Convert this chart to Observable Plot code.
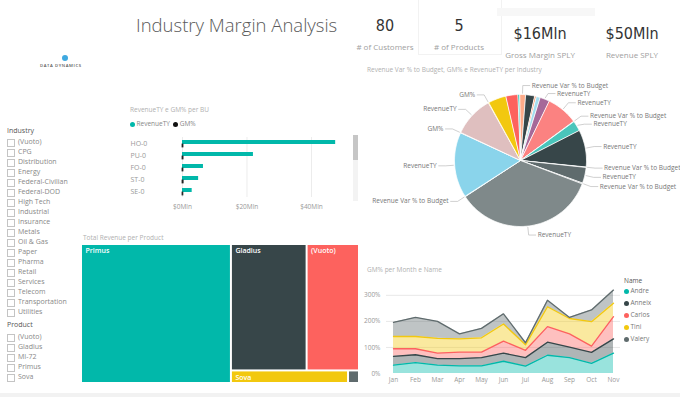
<!DOCTYPE html>
<html><head><meta charset="utf-8">
<script src="https://cdn.jsdelivr.net/npm/d3@7"></script>
<script src="https://cdn.jsdelivr.net/npm/@observablehq/plot@0.6"></script>
<style>
body{margin:0;background:#fff;font-family:"Open Sans",sans-serif;}
#root{position:relative;width:680px;height:397px;overflow:hidden;background:#fff;}
.abs{position:absolute;white-space:nowrap;line-height:1;}
.ctitle{font-size:6.5px;color:#b0b0b0;}
.kpi{font-family:"DejaVu Sans Condensed","DejaVu Sans",sans-serif;font-size:16px;color:#333;text-align:center;width:90px;}
.kpil{font-size:8px;color:#a0a0a0;text-align:center;width:90px;}
.slh{font-size:7px;color:#555;}
.sli{font-size:7px;color:#888;}
.box{position:absolute;width:6px;height:6px;border:1px solid #c4c4c4;background:#fff;}
.dot{display:inline-block;width:5px;height:5px;border-radius:50%;vertical-align:-0.5px;margin-right:1.5px;}
.plot{position:absolute;}
</style></head><body><div id="root"></div>
<script>
// ---------------- data ----------------
const industries = ["(Vuoto)","CPG","Distribution","Energy","Federal-Civilian","Federal-DOD","High Tech","Industrial","Insurance","Metals","Oil & Gas","Paper","Pharma","Retail","Services","Telecom","Transportation","Utilities"];
const productsList = ["(Vuoto)","Gladius","MI-72","Primus","Sova"];

const kpiValues = ["80","5","$16Mln","$50Mln"];
const kpiLabels = ["# of Customers","# of Products","Gross Margin SPLY","Revenue SPLY"];

const buNames = ["HO-0","PU-0","FO-0","ST-0","SE-0"];
const buRevenueTY = [47.5, 22, 6.5, 5, 3];   // $Mln
const buGMpct = [0.31, 0.33, 0.30, 0.35, 0.28];

const pieValues = [5.5, 8, 1.5, 3.5, 8.5, 28, 0.4, 9, 33, 0.4, 14, 0.8, 127, 0.4, 58, 0.4, 36, 0.4, 16, 10.7, 1.3];
const pieLabels = ["Revenue Var % to Budget","","","","RevenueTY","RevenueTY","Revenue Var % to Budget","RevenueTY","RevenueTY","Revenue Var % to Budget","RevenueTY","Revenue Var % to Budget","RevenueTY","Revenue Var % to Budget","RevenueTY","GM%","RevenueTY","GM%","","",""];

const treeProducts = ["Primus","Gladius","(Vuoto)","Sova","MI-72"];
const treeRevenue = [45.3, 20.8, 14.4, 3.2, 0.3]; // $Mln

const months = ["Jan","Feb","Mar","Apr","May","Jun","Jul","Aug","Sep","Oct","Nov"];
const names = ["Andre","Anneix","Carlos","Tini","Valery"];
const gmAndre  = [32,42,32,29,29,47,28,70,61,39,78];
const gmAnneix = [34,30,25,28,32,31,33,50,40,42,55];
const gmCarlos = [29,23,21,25,21,46,28,60,51,24,85];
const gmTini   = [47,47,57,51,55,66,21,76,59,94,52];
const gmValery = [54,73,65,19,36,39,8,25,4,45,50];

// ---------------- styles ----------------
const pbi = ["#01B8AA","#374649","#FD625E","#F2C80F","#5F6B6D"];
const pieColors = ["#FDAB89","#374649","#FE9666","#A4DDEE","#A66999","#FB8281","#4AC5BB","#4AC5BB","#374649","#5F6B6D","#5F6B6D","#7F898A","#7F898A","#8AD4EB","#8AD4EB","#DFBFBF","#DFBFBF","#F2C80F","#F2C80F","#FD625E","#01B8AA"];
const treeColors = ["#01B8AA","#374649","#FD625E","#F2C80F","#5F6B6D"];
const FONT = "Open Sans, sans-serif";

const root = document.getElementById("root");
function el(html, x, y, cls, extra) {
  const d = document.createElement("div");
  d.className = "abs " + (cls||"");
  d.style.left = x + "px"; d.style.top = y + "px";
  if (extra) Object.assign(d.style, extra);
  d.innerHTML = html; root.appendChild(d); return d;
}
function place(node, x, y) { node.classList.add("plot"); node.style.left = x + "px"; node.style.top = y + "px"; root.appendChild(node); }

// ---------------- header ----------------
el("Industry Margin Analysis", 136, 16, "", {fontSize:"18.5px", fontWeight:"300", color:"#5a5a5a"});
el("", 418, -2, "", {width:"82px", height:"55px", border:"1px solid #f2f2f2"});
el("", 497, 8, "", {width:"98px", height:"8px", background:"#f7f7f7"});
const kx = [385, 459, 540, 632], ky = [18, 18, 26, 26];
kpiValues.forEach((v,i)=>{ el(v, kx[i]-45, ky[i], "kpi"); el(kpiLabels[i], kx[i]-45, ky[i]+25, "kpil"); });
// logo
el("", 62, 55, "", {width:"6px", height:"6px", borderRadius:"50%", background:"#3fa9e0"});
el("DATA DYNAMICS", 40, 64, "", {fontSize:"4.2px", letterSpacing:"0.6px", color:"#555", fontWeight:"600"});

// ---------------- slicers ----------------
el("Industry", 7, 127, "slh");
industries.forEach((t,i)=>{ const y = 138 + i*10; const b=document.createElement("div"); b.className="box"; b.style.left="7px"; b.style.top=(y+0.5)+"px"; root.appendChild(b); el(t, 18, y, "sli"); });
el("Product", 7, 321, "slh");
productsList.forEach((t,i)=>{ const y = 333 + i*10; const b=document.createElement("div"); b.className="box"; b.style.left="7px"; b.style.top=(y+0.5)+"px"; root.appendChild(b); el(t, 18, y, "sli"); });

// ---------------- bar chart ----------------
el("RevenueTY e GM% per BU", 130, 107, "ctitle");
el('<span class="dot" style="background:#01B8AA"></span>RevenueTY&nbsp;&nbsp;<span class="dot" style="background:#111"></span>GM%', 130, 121, "", {fontSize:"6.5px", color:"#888"});
el("", 353, 135, "", {width:"5px", height:"66px", background:"#f3f3f3"});
el("", 353, 135, "", {width:"5px", height:"25px", background:"#c6c6c6"});
const barRows = buNames.map((b,i)=>({bu:b, rev:buRevenueTY[i], gm:buGMpct[i]}));
const bar = Plot.plot({
  width: 240, height: 90, marginLeft: 62, marginRight: 20, marginTop: 7, marginBottom: 23,
  style: {fontFamily: FONT, fontSize: "6.5px", color: "#999", background: "transparent"},
  x: {domain: [0, 49]},
  y: {domain: buNames, padding: 0},
  marks: [
    Plot.gridX([0,20,40], {stroke: "#ececec", strokeOpacity: 1}),
    Plot.barX(barRows, {y: "bu", x: "rev", fill: "#01B8AA", insetTop: 3, insetBottom: 5}),
    Plot.barX(barRows, {y: "bu", x: "gm", fill: "#222", stroke: "#222", strokeWidth: 0.8, insetTop: 7, insetBottom: 2}),
    Plot.axisX({ticks: [0,20,40], tickFormat: d => `$${d}Mln`, tickSize: 0, tickPadding: 7, label: null}),
    Plot.axisY({tickSize: 0, tickPadding: 0, textAnchor: "start", dx: -52, label: null, fontSize: 7})
  ]
});
place(bar, 120, 130);

// ---------------- pie chart ----------------
el("Revenue Var % to Budget, GM% e RevenueTY per Industry", 367, 67, "ctitle");
const deg = Math.PI/180;
const arcs = d3.pie().sort(null).value(d=>d).startAngle(-1*deg).endAngle(359*deg)(pieValues);
const slices = arcs.map((a,i)=>{
  const pts = [[0,0]];
  const n = Math.max(2, Math.ceil((a.endAngle - a.startAngle)/deg));
  for (let k=0;k<=n;k++){ const t = a.startAngle + (a.endAngle - a.startAngle)*k/n; pts.push([Math.sin(t), Math.cos(t)]); }
  pts.push([0,0]);
  return {type:"Feature", properties:{color: pieColors[i]}, geometry:{type:"Polygon", coordinates:[pts]}};
});
const PR = 66; // pixel radius used to convert offsets to units
const labs = arcs.map((a,i)=>({label: pieLabels[i], m: (a.startAngle+a.endAngle)/2})).filter(d=>d.label);
labs.forEach(d=>{ d.ax = Math.sin(d.m); d.ay = Math.cos(d.m); const k = 1 + 9/PR; d.ex = d.ax*k; d.ey = d.ay*k; d.right = d.ax >= 0; });
for (const side of [true,false]) {
  const s = labs.filter(d=>d.right===side).sort((a,b)=>b.ey-a.ey);
  for (let k=1;k<s.length;k++) if (s[k-1].ey - s[k].ey < 8/PR) s[k].ey = s[k-1].ey - 8/PR;
}
labs.forEach(d=>{ d.tx = d.ex + (d.right?1:-1)*7/PR; });
const leaders = labs.map(d=>({type:"Feature", properties:{}, geometry:{type:"LineString", coordinates:[[d.ax*1.02,d.ay*1.02],[d.ex,d.ey],[d.tx,d.ey]]}}));
const pie = Plot.plot({
  width: 310, height: 170, margin: 0,
  style: {fontFamily: FONT, fontSize: "6.5px", color: "#777", background: "transparent", overflow: "visible"},
  projection: {type: "reflect-y", inset: 0, domain: {type:"MultiPoint", coordinates:[[-150/PR, -85/PR],[160/PR, 85/PR]]}},
  color: {type: "identity"},
  marks: [
    Plot.geo(slices, {fill: d => d.properties.color, stroke: "white", strokeWidth: 0.8}),
    Plot.geo(leaders, {stroke: "#b0b0b0", strokeWidth: 0.6, fill: "none"}),
    Plot.text(labs.filter(d=>d.right), {x: "tx", y: "ey", text: "label", textAnchor: "start", dx: 2, fill: "#777"}),
    Plot.text(labs.filter(d=>!d.right), {x: "tx", y: "ey", text: "label", textAnchor: "end", dx: -2, fill: "#777"})
  ]
});
place(pie, 370, 75);

// ---------------- treemap ----------------
el("Total Revenue per Product", 83, 235, "ctitle");
const TW = 276, TH = 137;
const leaf = i => ({name: treeProducts[i], value: treeRevenue[i], color: treeColors[i]});
const hier = d3.hierarchy({children: [leaf(0), {children: [{children: [leaf(1), leaf(2)]}, {children: [leaf(3), leaf(4)]}]}]}).sum(d => d.value || 0);
d3.treemap().tile(d3.treemapSliceDice).size([TW, TH]).paddingInner(2).round(false)(hier);
const cells = hier.leaves().map(n => ({name: n.data.name, color: n.data.color, x0: n.x0, x1: n.x1, y0: n.y0, y1: n.y1}));
const tree = Plot.plot({
  width: TW, height: TH, margin: 0,
  style: {fontFamily: FONT, fontSize: "7px", background: "transparent"},
  x: {domain: [0, TW], axis: null}, y: {domain: [0, TH], reverse: true, axis: null},
  color: {type: "identity"},
  marks: [
    Plot.rect(cells, {x1: "x0", x2: "x1", y1: "y0", y2: "y1", fill: "color"}),
    Plot.text(cells.filter(d => d.x1 - d.x0 > 20), {x: "x0", y: "y0", text: "name", textAnchor: "start", lineAnchor: "top", dx: 3, dy: 3, fill: "white", fontWeight: 600})
  ]
});
place(tree, 82, 245);

// ---------------- stacked area ----------------
el("GM% per Month e Name", 367, 267, "ctitle");
const gmSeries = [gmAndre, gmAnneix, gmCarlos, gmTini, gmValery];
const areaData = names.flatMap((n,i) => months.map((m,j) => ({name: n, month: m, value: gmSeries[i][j]})));
const area = Plot.plot({
  width: 258, height: 108, marginLeft: 23, marginRight: 1, marginTop: 7, marginBottom: 15,
  style: {fontFamily: FONT, fontSize: "6.5px", color: "#999", background: "transparent"},
  x: {type: "point", domain: months, padding: 0.318},
  y: {domain: [0, 330]},
  color: {domain: names, range: pbi},
  marks: [
    Plot.gridY([100,200,300], {stroke: "#e8e8e8", strokeOpacity: 1}),
    Plot.areaY(areaData, {x: "month", y: "value", z: "name", fill: "name", fillOpacity: 0.4}),
    Plot.lineY(areaData, Plot.stackY2({x: "month", y: "value", z: "name", stroke: "name", strokeWidth: 1.3})),
    Plot.axisY({ticks: [0,100,200,300], tickFormat: d => d + "%", tickSize: 0, tickPadding: 6, label: null}),
    Plot.axisX({tickSize: 0, tickPadding: 4, label: null})
  ]
});
place(area, 363, 280);
el("Name", 624, 278, "", {fontSize:"6.5px", color:"#555"});
names.forEach((n,i)=>{ el(`<span class="dot" style="background:${pbi[i]}"></span>${n}`, 624, 288 + i*12, "", {fontSize:"6.5px", color:"#777"}); });

// bottom strip
el("", 0, 393, "", {width:"680px", height:"4px", background:"#f2f2f2"});
</script></body></html>
